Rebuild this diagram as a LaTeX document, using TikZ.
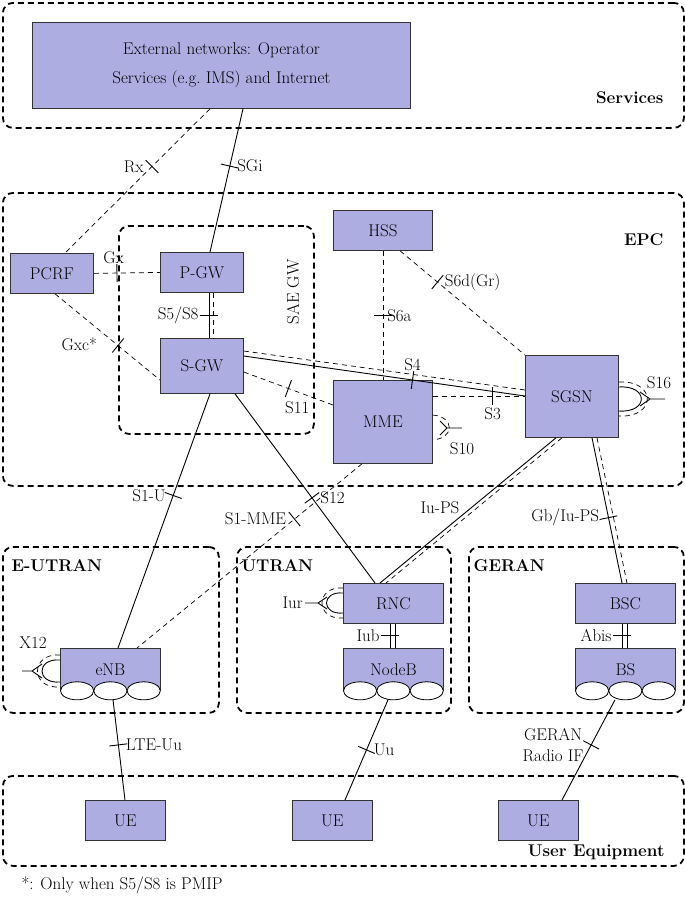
\documentclass[tikz,border=0pt]{standalone}
\usepackage{fontspec}
\usetikzlibrary{decorations.markings,calc}
\begin{document}
\begin{tikzpicture}[x=1pt,y=-1pt,
  font=\fontsize{17}{21}\selectfont,
  ent/.style={draw=black!80,line width=0.8pt,inner sep=0pt},
  area/.style={draw,line width=1.8pt,rounded corners=10pt,dash pattern=on 6pt off 4pt},
  dsh/.style={dash pattern=on 5pt off 4pt,line width=0.7pt},
  sol/.style={line width=0.9pt},
  tick/.style={postaction={decorate,decoration={markings,mark=at position #1 with {\draw[solid,line width=0.9pt] (0,-9)--(0,9);}}}},
  tick/.default=0.5,
  lab/.style={inner sep=1pt}]
\useasboundingbox (0,0) rectangle (685,898);
\definecolor{boxc}{RGB}{173,173,226}
\tikzset{ent/.append style={fill=boxc}}
% areas
\node[area,minimum width=681,minimum height=125,anchor=north west] (serv) at (2,2) {};
\node[area,minimum width=681,minimum height=293,anchor=north west] (epc) at (2,192) {};
\node[area,minimum width=195,minimum height=208,anchor=north west] (sae) at (118,225) {};
\node[area,minimum width=216,minimum height=166,anchor=north west] (eutran) at (2,546) {};
\node[area,minimum width=214,minimum height=166,anchor=north west] (utran) at (236,546) {};
\node[area,minimum width=215,minimum height=166,anchor=north west] (geran) at (468,546) {};
\node[area,minimum width=681,minimum height=90,anchor=north west] (uearea) at (2,775) {};
\node[font=\fontsize{17}{21}\selectfont\bfseries,anchor=east] (lserv) at (667,98) {Services};
\node[font=\fontsize{17}{21}\selectfont\bfseries,anchor=east] (lepc) at (667,240) {EPC};
\node[font=\fontsize{17}{21}\selectfont\bfseries,anchor=west] (leu) at (8,566) {E-UTRAN};
\node[font=\fontsize{17}{21}\selectfont\bfseries,anchor=west] (lut) at (238,566) {UTRAN};
\node[font=\fontsize{17}{21}\selectfont\bfseries,anchor=west] (lge) at (470,566) {GERAN};
\node[font=\fontsize{17}{21}\selectfont\bfseries,anchor=east] (lue) at (668,852) {User Equipment};
\node[rotate=90] (lsae) at (293,292) {SAE GW};
\node[anchor=west] (foot) at (18,885) {*: Only when S5/S8 is PMIP};
% entities
\node[ent,minimum width=378,minimum height=86,anchor=north west,align=center] (ext) at (32,22) {External networks: Operator\\[8pt]Services (e.g.\ IMS) and Internet};
\node[ent,minimum width=99,minimum height=40,anchor=north west] (hss) at (333,210) {HSS};
\node[ent,minimum width=83,minimum height=40,anchor=north west] (pcrf) at (10,253) {PCRF};
\node[ent,minimum width=83,minimum height=40,anchor=north west] (pgw) at (160,252) {P-GW};
\node[ent,minimum width=83,minimum height=55,anchor=north west] (sgw) at (160,338) {S-GW};
\node[ent,minimum width=99,minimum height=83,anchor=north west] (mme) at (333,380) {MME};
\node[ent,minimum width=93,minimum height=82,anchor=north west] (sgsn) at (525,355) {SGSN};
\node[ent,minimum width=100,minimum height=40,anchor=north west] (rnc) at (343,583) {RNC};
\node[ent,minimum width=100,minimum height=40,anchor=north west] (bsc) at (575,583) {BSC};
\node[ent,minimum width=100,minimum height=42,anchor=north west] (enb) at (60,648) {eNB};
\node[ent,minimum width=100,minimum height=42,anchor=north west] (nodeb) at (343,648) {NodeB};
\node[ent,minimum width=100,minimum height=42,anchor=north west] (bs) at (575,648) {BS};
\foreach \b in {enb,nodeb,bs}{
  \foreach \k in {-1,0,1}{
    \draw[fill=white,line width=0.8pt] ($(\b.south)+(\k*33.3,0)$) ellipse (16.6 and 9);
  }
}
\node[ent,minimum width=80,minimum height=40,anchor=north west] (ue1) at (85,800) {UE};
\node[ent,minimum width=80,minimum height=40,anchor=north west] (ue2) at (292,800) {UE};
\node[ent,minimum width=80,minimum height=40,anchor=north west] (ue3) at (498,800) {UE};
% connectors
\draw[sol,tick=0.4] (ext.south -| 243,0) -- (pgw.north -| 210,0) node[pos=0.4,right=6pt,lab] {SGi};
\draw[dsh,tick=0.4] (ext.south -| 210,0) -- (pcrf.north -| 65,0) node[pos=0.4,left=7pt,lab] {Rx};
\draw[dsh,tick=0.35] (pcrf.east) -- (pgw.west) node[pos=0.3,above=8pt,lab] {Gx};
\draw[dsh,tick=0.6] (pcrf.south -| 55,0) -- (sgw.west |- 0,380) node[pos=0.45,below left=4pt,lab] {Gxc*};
\draw[sol,tick=0.5] (pgw.south -| 209,0) -- (sgw.north -| 209,0) node[pos=0.5,left=9pt,lab] {S5/S8};
\draw[dsh] (pgw.south -| 213,0) -- (sgw.north -| 213,0);
\draw[sol,tick=0.6] (sgw.east |- 0,356) -- (sgsn.west |- 0,396) node[pos=0.6,above=8pt,lab] {S4};
\draw[dsh] (sgw.east |- 0,351) -- (sgsn.west |- 0,390);
\draw[dsh,tick=0.5] (sgw.east |- 0,372) -- (mme.west |- 0,405) node[pos=0.6,below=8pt,lab] {S11};
\draw[dsh,tick=0.5] (hss.south) -- (mme.north) node[pos=0.5,right=3pt,lab] {S6a};
\draw[dsh,tick=0.3] (hss.south -| 400,0) -- (sgsn.north west) node[pos=0.3,right=6pt,lab] {S6d(Gr)};
\draw[dsh,tick=0.65] (mme.east |- 0,396) -- (sgsn.west |- 0,396) node[pos=0.65,below=10pt,lab] {S3};
% S10 loop
\draw[dsh] (mme.east |- 0,415) .. controls +(22,2) and +(22,-2) .. (mme.east |- 0,440);
\draw[sol] (440,421) -- (447,428) -- (440,435) (447,428) -- (462,428);
\node[lab] (l10) at (462,449) {S10};
% S16 loop
\draw[sol] (sgsn.east |- 0,387) .. controls +(30,-2) and +(30,2) .. (sgsn.east |- 0,411);
\draw[dsh] (sgsn.east |- 0,382) .. controls +(38,-2) and +(38,2) .. (sgsn.east |- 0,416);
\draw[sol] (640,392) -- (650,399) -- (640,406) (650,399) -- (665,399);
\node[lab] (l16) at (659,383) {S16};
% access
\draw[sol,tick=0.4] (sgw.south -| 210,0) -- (enb.north -| 118,0) node[pos=0.4,left=6pt,lab] {S1-U};
\draw[sol,tick=0.55] (sgw.south -| 235,0) -- (rnc.north -| 375,0) node[pos=0.55,right=7pt,lab] {S12};
\draw[dsh,tick=0.3] (mme.south -| 362,0) -- (enb.north -| 137,0) node[pos=0.3,left=7pt,lab] {S1-MME};
\draw[sol] (sgsn.south -| 556,0) -- (rnc.north -| 380,0);
\draw[dsh] (sgsn.south -| 562,0) -- (rnc.north -| 386,0);
\node[lab] (liu) at (440,508) {Iu-PS};
\draw[sol,tick=0.55] (sgsn.south -| 592,0) -- (bsc.north -| 622,0) node[pos=0.55,left=8pt,lab] {Gb/Iu-PS};
\draw[dsh] (sgsn.south -| 597,0) -- (bsc.north -| 627,0);
\draw[sol,tick=0.5] (rnc.south -| 390,0) -- (nodeb.north -| 390,0) node[pos=0.5,left=9pt,lab] {Iub};
\draw[sol] (rnc.south -| 395,0) -- (nodeb.north -| 395,0);
\draw[sol,tick=0.5] (bsc.south -| 622,0) -- (bs.north -| 622,0) node[pos=0.5,left=9pt,lab] {Abis};
\draw[sol] (bsc.south -| 627,0) -- (bs.north -| 627,0);
% Iur loop
\draw[sol] (rnc.west |- 0,593) .. controls +(-22,-2) and +(-22,2) .. (rnc.west |- 0,613);
\draw[dsh] (rnc.west |- 0,588) .. controls +(-28,-2) and +(-28,2) .. (rnc.west |- 0,618);
\draw[sol] (327,597) -- (318,603) -- (327,609) (318,603) -- (305,603);
\node[lab,anchor=east] (lur) at (304,603) {Iur};
% X12 loop
\draw[sol] (enb.west |- 0,660) .. controls +(-24,-2) and +(-24,2) .. (enb.west |- 0,682);
\draw[dsh] (enb.west |- 0,655) .. controls +(-30,-2) and +(-30,2) .. (enb.west |- 0,687);
\draw[sol] (42,664) -- (32,671) -- (42,678) (32,671) -- (22,671);
\node[lab] (lx12) at (33,643) {X12};
% radio
\draw[sol,tick=0.45] (enb.south -| 113,0) ++(0,9) -- (ue1.north -| 125,0) node[pos=0.45,right=6pt,lab] {LTE-Uu};
\draw[sol,tick=0.5] (nodeb.south -| 388,0) ++(0,9) -- (ue2.north -| 345,0) node[pos=0.5,right=6pt,lab] {Uu};
\draw[sol,tick=0.45] (bs.south -| 615,0) ++(0,9) -- (ue3.north -| 562,0) node[pos=0.45,left=6pt,lab,align=center] {GERAN\\Radio IF};
\end{tikzpicture}
\end{document}
